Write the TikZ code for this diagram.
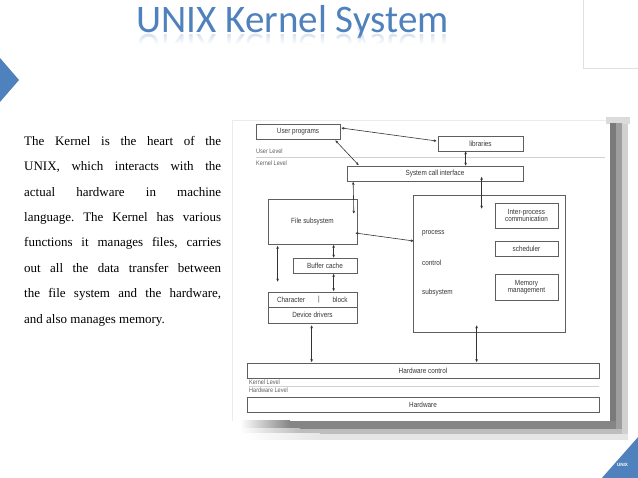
\documentclass[tikz,border=0pt]{standalone}
\usepackage{fontspec}
\setmainfont{Liberation Serif}
\newfontfamily\titlefont{Carlito}
\newfontfamily\dgfont[FakeStretch=0.85]{Liberation Sans}
\newfontfamily\tagfont{Liberation Sans}
\usetikzlibrary{arrows.meta,calc,fadings}
\definecolor{ublue}{RGB}{79,129,189}
\definecolor{boxline}{RGB}{95,95,95}
\definecolor{dgtext}{RGB}{55,55,55}
\tikzset{
  dbox/.style={draw=boxline, line width=0.7pt, fill=white, inner sep=0pt,
    font=\dgfont\fontsize{7.5}{8.5}\selectfont, text=dgtext, align=center},
  dlabel/.style={inner sep=0pt, font=\dgfont\fontsize{6.5}{7.5}\selectfont, text=dgtext!80},
  plabel/.style={inner sep=0pt, anchor=west, font=\dgfont\fontsize{7.5}{8.5}\selectfont, text=dgtext},
  link/.style={{Stealth[length=3pt,width=2.6pt]}-{Stealth[length=3pt,width=2.6pt]},
    line width=0.6pt, draw=black!80},
  levelline/.style={draw=black!18, line width=0.6pt}
}
\begin{document}
\begin{tikzpicture}[x=1pt,y=-1pt]
\useasboundingbox (0,0) rectangle (638,478);
\fill[white] (0,0) rectangle (638,478);

% title with reflection
\node[anchor=base, inner sep=0pt, font=\titlefont\fontsize{39}{42}\selectfont, text=ublue] (title) at (292.5,33) {UNIX Kernel System};
\node[anchor=base, inner sep=0pt, font=\titlefont\fontsize{39}{42}\selectfont, text=ublue, opacity=0.22] (titlerefl) at (292.5,35) {\scalebox{1}[-1]{UNIX Kernel System}};
\fill[white, path fading=north] (120,34.5) rectangle (470,44);
\fill[white] (120,44) rectangle (470,64);

% left chevron
\fill[ublue] (0,58) -- (19,80) -- (0,102) -- cycle;
% top-right frame
\draw[black!12, line width=1.3pt] (583.5,-2) -- (583.5,68.5) -- (640,68.5);
% bottom-right triangle
\fill[ublue] (601,479) -- (639,436) -- (639,479) -- cycle;
\node[inner sep=0pt, text=white, font=\tagfont\bfseries\fontsize{4.6}{5}\selectfont] (tag) at (622.5,464.5) {UNIX};

% paragraph
\node[anchor=base west, inner sep=0pt] (para) at (24,145.3) {\parbox[t]{197pt}{\fontsize{13}{25.4}\selectfont
\parindent=0pt\tolerance=10000\hyphenpenalty=10000\rightskip=0pt\frenchspacing
The Kernel is the heart of the\linebreak
UNIX, which interacts with the\linebreak
actual hardware in machine\linebreak
language. The Kernel has various\linebreak
functions it manages files, carries\linebreak
out all the data transfer between\linebreak
the file system and the hardware,\linebreak
and also manages memory.}};

% picture frame and shadow
\draw[black!8, line width=0.8pt] (232,421) -- (232,120.5) -- (610,120.5);
\fill[black!14] (606,117) rectangle (630,124);
\fill[black!52] (610,123) rectangle (616,430);
\fill[black!38] (616,123) rectangle (622,432);
\fill[black!18] (622,124) rectangle (628,436);
\shade[left color=white, right color=black!48] (240,421) rectangle (290,429);
\fill[black!48] (290,421) rectangle (616,429);
\shade[left color=white, right color=black!26] (240,429) rectangle (300,434);
\fill[black!26] (300,429) rectangle (622,434);
\shade[left color=white, right color=black!10] (245,434) rectangle (320,440);
\fill[black!10] (320,434) rectangle (628,440);

% level separators
\node[dlabel, anchor=west] (ulevel) at (256,151.5) {User Level};
\node[dlabel, anchor=west] (klevel) at (256,163) {Kernel Level};
\draw[levelline] (256,157.5) -- (605,157.5);
\node[dlabel, anchor=west] (klevel2) at (249,382) {Kernel Level};
\node[dlabel, anchor=west] (hlevel) at (249,390.5) {Hardware Level};
\draw[levelline] (249,386.5) -- (599,386.5);

% boxes
\node[dbox, minimum width=84, minimum height=15] (up) at (298,131.5) {User programs};
\node[dbox, minimum width=85, minimum height=15] (lib) at (480.5,143.5) {libraries};
\node[dbox, minimum width=176, minimum height=15.5] (sci) at (435,173.75) {System call interface};
\node[dbox, minimum width=89, minimum height=45] (fs) at (312.5,221.5) {File subsystem};
\node[dbox, minimum width=64, minimum height=15] (bc) at (325,265.5) {Buffer cache};
\node[dbox, minimum width=89, minimum height=15] (cb) at (312.5,299.5) {};
\node[plabel, anchor=center] (chr) at (291,299.5) {Character};
\node[plabel, anchor=center] (bar) at (319,299.5) {|};
\node[plabel, anchor=center] (blk) at (340,299.5) {block};
\node[dbox, minimum width=89, minimum height=16] (dd) at (312.5,315) {Device drivers};
\node[dbox, minimum width=152, minimum height=137] (pcs) at (489,263.5) {};
\node[plabel] (p1) at (422,233) {process};
\node[plabel] (p2) at (422,263) {control};
\node[plabel] (p3) at (422,293) {subsystem};
\node[dbox, minimum width=63, minimum height=25] (ipc) at (526.5,215.5) {Inter-process\\[-1.5pt]communication};
\node[dbox, minimum width=63, minimum height=15] (sch) at (526.5,248.5) {scheduler};
\node[dbox, minimum width=63, minimum height=26] (mem) at (526.5,287) {Memory\\[-1.5pt]management};
\node[dbox, minimum width=352, minimum height=15] (hwc) at (423,370.5) {Hardware control};
\node[dbox, minimum width=352, minimum height=15] (hw) at (423,404.5) {Hardware};

% connectors
\draw[link] ($(up.east)+(1,-3.5)$) -- ($(lib.west)+(-1,-2.5)$);
\draw[link] ($(up.south east)+(-5,1)$) -- ($(sci.north west)+(12,-0.5)$);
\draw[link] ($(lib.south west)+(28,0)$) -- ($(sci.north west)+(28+91,0)$);
\draw[link] ($(sci.south west)+(6.5,0)$) -- ($(fs.north east)+(-3.5,15)$);
\draw[link] ($(sci.south west)+(135,-5)$) -- ($(pcs.north west)+(69,14)$);
\draw[link] ($(fs.east)+(-2,11.5)$) -- ($(pcs.west)+(1,-22.5)$);
\draw[link] ($(fs.south west)+(66,0.5)$) -- ($(bc.north west)+(41,0)$);
\draw[link] ($(bc.south west)+(41,0.5)$) -- ($(cb.north west)+(66,-0.5)$);
\draw[link] ($(fs.south west)+(10,1.5)$) -- ($(cb.north west)+(10,-10)$);
\draw[link] ($(dd.south west)+(44,2)$) -- ($(hwc.north west)+(65,-0.5)$);
\draw[link] ($(pcs.south west)+(64,-7)$) -- ($(hwc.north west)+(230,-0.5)$);
\end{tikzpicture}
\end{document}
